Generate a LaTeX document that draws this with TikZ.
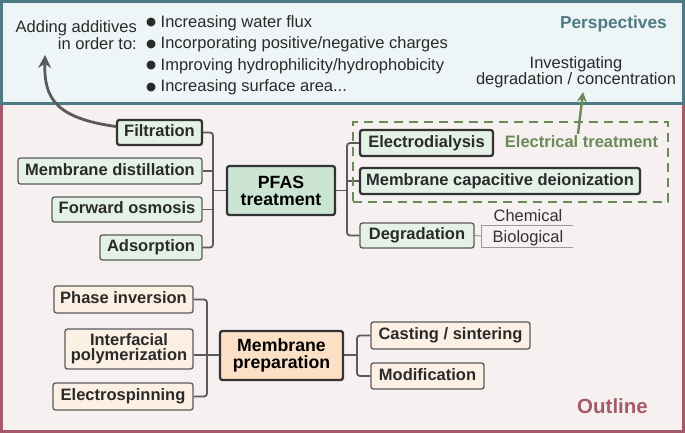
\documentclass[tikz,border=0pt]{standalone}
\usepackage{fontspec}
\setmainfont{Liberation Sans}
\newfontfamily\dejavu{DejaVu Sans}
\usetikzlibrary{arrows.meta}
\definecolor{tealb}{HTML}{4D7B83}
\definecolor{tealf}{HTML}{EEF5F6}
\definecolor{redb}{HTML}{A55A69}
\definecolor{redf}{HTML}{F6F0F1}
\definecolor{gfill}{HTML}{E3F1E6}
\definecolor{gfillc}{HTML}{CCE5D3}
\definecolor{ofill}{HTML}{FCEFE3}
\definecolor{ofillc}{HTML}{FBE0C6}
\definecolor{greenc}{HTML}{6A8A57}
\definecolor{linec}{HTML}{5A5A5A}
\definecolor{darkc}{HTML}{333333}
\definecolor{textc}{HTML}{2A2A2A}
\definecolor{thinc}{HTML}{9A9A9A}
\newcommand{\bul}{\raisebox{1.8pt}{\dejavu\fontsize{11.5}{11.5}\selectfont ●}\hspace{4.5pt}}
\begin{document}
\begin{tikzpicture}[x=1pt,y=-1pt,
  box/.style={draw=linec, line width=1.3, rounded corners=2.5, inner sep=0,
    font=\fontsize{16.5}{18}\selectfont\bfseries, text=textc, align=center},
  one/.style={text height=12, text depth=3.5},
  gbox/.style={box, fill=gfill},
  obox/.style={box, fill=ofill},
  strong/.style={line width=2.3, draw=darkc},
  central/.style={box, strong, font=\fontsize{17.7}{19}\selectfont\bfseries, text=black},
  conn/.style={draw=linec, line width=1.8, rounded corners=3},
  thinline/.style={draw=thinc, line width=1},
  plain/.style={inner sep=0, font=\fontsize{16.5}{18}\selectfont, text=textc},
]
\useasboundingbox (0,0) rectangle (685,433);
% panels
\draw[line width=3, draw=redb, fill=redf] (1.5,104) rectangle (683.5,431.5);
\draw[line width=3, draw=tealb, fill=tealf] (1.5,1.5) rectangle (683.5,104);

% top texts
\node[plain, anchor=base east, align=right] (add) at (137,32.3) {Adding additives};
\node[plain, anchor=base east, align=right] (ord) at (137,50) {in order to:};
\node[plain, anchor=base west] (b1) at (146,27.3) {\bul Increasing water flux};
\node[plain, anchor=base west] (b2) at (146,49) {\bul Incorporating positive/negative charges};
\node[plain, anchor=base west] (b3) at (146,70.7) {\bul Improving hydrophilicity/hydrophobicity};
\node[plain, anchor=base west] (b4) at (146,92) {\bul Increasing surface area...};
\node[inner sep=0, anchor=base east, font=\fontsize{17.3}{19}\selectfont\bfseries, text=tealb] (persp) at (667,28.3) {Perspectives};
\node[plain, anchor=base] (inv1) at (576,68.3) {Investigating};
\node[plain, anchor=base] (inv2) at (576,85) {degradation / concentration};
\node[inner sep=0, anchor=base, font=\fontsize{20.5}{22}\selectfont\bfseries, text=redb] (outl) at (612.5,413) {Outline};

% PFAS branch
\node[gbox, one, strong, minimum width=85, minimum height=25] (fil) at (159.5,132.5) {Filtration};
\node[gbox, one, minimum width=184, minimum height=26] (md) at (110,171) {Membrane distillation};
\node[gbox, one, minimum width=150, minimum height=25] (fo) at (127,209.5) {Forward osmosis};
\node[gbox, one, minimum width=102, minimum height=25] (ads) at (151,247.5) {Adsorption};
\node[central, fill=gfillc, minimum width=108, minimum height=49] (pfas) at (281,190.5) {PFAS\\[-2pt]treatment};
\coordinate (jl) at (213,190.5);
\draw[conn] (fil.east) -| (jl) |- (ads.east);
\draw[conn] (md.east) -- (md.east -| jl);
\draw[conn] (fo.east) -- (fo.east -| jl);
\draw[conn] (jl) -- (pfas.west);

\node[gbox, one, strong, minimum width=133, minimum height=26] (ed) at (426.5,143) {Electrodialysis};
\node[gbox, one, strong, minimum width=280, minimum height=26] (mcdi) at (500,181) {Membrane capacitive deionization};
\node[gbox, one, minimum width=114, minimum height=25] (deg) at (417,235.5) {Degradation};
\coordinate (jr) at (347,190.5);
\draw[conn] (pfas.east) -- (jr);
\draw[conn] (ed.west) -| (jr) |- (deg.west);
\draw[conn] (mcdi.west) -- (mcdi.west -| jr);
\node[draw=greenc, dashed, dash pattern=on 9pt off 6pt, line width=2, minimum width=315, minimum height=80, inner sep=0] (etbox) at (510.5,162) {};
\node[inner sep=0, font=\fontsize{16.5}{18}\selectfont\bfseries, text=greenc] (ett) at (581.5,142) {Electrical treatment};

% degradation sub
\node[plain, anchor=base, text=darkc] (chem) at (528,221) {Chemical};
\node[plain, anchor=base, text=darkc] (bio) at (528,242) {Biological};
\coordinate (ds) at (481,236);
\coordinate (c1) at (481,225);
\coordinate (c2) at (573,225);
\coordinate (d1) at (481,247);
\coordinate (d2) at (573,247);
\draw[thinline] (deg.east) -- (ds);
\draw[thinline] (c2) -- (c1) -- (d1) -- (d2);

% arrows
\coordinate (atip) at (45,55);
\draw[draw=linec, line width=2.8, -{Stealth[length=13pt,width=13pt]}] (fil.west) ++(0,-6) .. controls (55,118) and (44,98) .. (atip);
\coordinate (gs) at (578,134);
\coordinate (gt) at (583,92);
\draw[draw=greenc, line width=2.4, -{Stealth[length=10pt,width=10pt]}] (gs) -- (gt);

% membrane preparation
\node[obox, one, minimum width=139, minimum height=27] (pi) at (123.5,299.5) {Phase inversion};
\node[obox, minimum width=128, minimum height=40] (ip) at (129,349) {Interfacial\\[-3pt]polymerization};
\node[obox, one, minimum width=140, minimum height=27] (es) at (123,396.5) {Electrospinning};
\node[central, fill=ofillc, minimum width=123, minimum height=49] (mp) at (281.5,355.5) {Membrane\\[-2pt]preparation};
\coordinate (jb) at (207,355);
\draw[conn] (pi.east) -| (jb) |- (es.east);
\draw[conn] (ip.east |- jb) -- (mp.west |- jb);
\node[obox, one, minimum width=159, minimum height=27] (cs) at (450.5,335.5) {Casting / sintering};
\node[obox, one, minimum width=113, minimum height=26] (mod) at (427.5,376) {Modification};
\coordinate (jb2) at (357,355);
\draw[conn] (mp.east |- jb2) -- (jb2);
\draw[conn] (cs.west) -| (jb2) |- (mod.west);
\end{tikzpicture}
\end{document}
